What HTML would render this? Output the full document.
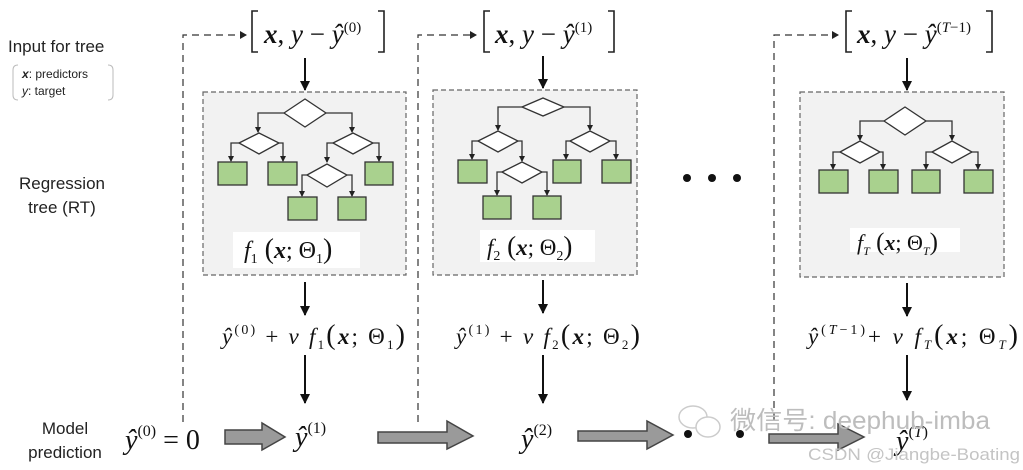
<!DOCTYPE html>
<html><head><meta charset="utf-8"><style>
html,body{margin:0;padding:0;background:#fff;}
svg{display:block;}
.lab{font-family:"Liberation Sans",sans-serif;fill:#222;}
.m{font-family:"Liberation Serif",serif;fill:#111;}
.t{stroke:#333;stroke-width:1.3;fill:none;}
.d{fill:#fff;stroke:#333;stroke-width:1.3;}
.l{fill:#a9d18e;stroke:#333;stroke-width:1.3;}
.box{fill:#f2f2f2;stroke:#666;stroke-width:1.2;stroke-dasharray:5,3;}
.dash{stroke:#333;stroke-width:1.2;stroke-dasharray:7,5;fill:none;}
.ar{stroke:#111;stroke-width:2;fill:none;}
.fat{fill:#9a9a9a;stroke:#444;stroke-width:1.5;}
.br{stroke:#222;stroke-width:1.6;fill:none;}
</style></head><body>
<svg width="1023" height="470" viewBox="0 0 1023 470" xmlns="http://www.w3.org/2000/svg">
<defs>
<marker id="ah" markerWidth="8" markerHeight="8" refX="6" refY="4" orient="auto" markerUnits="userSpaceOnUse"><path d="M0,0 L7,4 L0,8 Z" fill="#222"/></marker>
<marker id="as" markerWidth="7" markerHeight="7" refX="5" refY="3" orient="auto" markerUnits="userSpaceOnUse"><path d="M0,0 L6,3 L0,6 Z" fill="#222"/></marker>
<marker id="ab" markerWidth="12" markerHeight="12" refX="9" refY="5" orient="auto" markerUnits="userSpaceOnUse"><path d="M0,0 L10,5 L0,10 Z" fill="#111"/></marker>
</defs>

<text class="lab" x="8" y="52" font-size="17">Input for tree</text>
<path d="M18,65 Q13,65 13,70 L13,95 Q13,100 18,100" stroke="#bbb" fill="none"/>
<path d="M108,65 Q113,65 113,70 L113,95 Q113,100 108,100" stroke="#bbb" fill="none"/>
<text class="lab" x="22" y="78" font-size="12"><tspan font-weight="bold" font-style="italic">x</tspan>: predictors</text>
<text class="lab" x="22" y="95" font-size="12"><tspan font-style="italic">y</tspan>: target</text>
<text class="lab" x="62" y="189" font-size="17" text-anchor="middle">Regression</text>
<text class="lab" x="62" y="213" font-size="17" text-anchor="middle">tree (RT)</text>
<text class="lab" x="65" y="434" font-size="17" text-anchor="middle">Model</text>
<text class="lab" x="65" y="458" font-size="17" text-anchor="middle">prediction</text>

<path class="dash" d="M183,422 L183,35 L246,35" marker-end="url(#ah)"/>
<path class="dash" d="M418,422 L418,35 L476,35" marker-end="url(#ah)"/>
<path class="dash" d="M774,420 L774,35 L838,35" marker-end="url(#ah)"/>

<path class="br" d="M258,11 L252,11 L252,52 L258,52"/>
<path class="br" d="M378,11 L384,11 L384,52 L378,52"/>
<text class="m" x="264" y="43" font-size="27"><tspan font-weight="bold" font-style="italic">x</tspan>, <tspan font-style="italic">y</tspan> − <tspan font-style="italic">ŷ</tspan><tspan font-size="15" dy="-11">(0)</tspan></text>
<path class="br" d="M490,11 L484,11 L484,52 L490,52"/>
<path class="br" d="M608,11 L614,11 L614,52 L608,52"/>
<text class="m" x="495" y="43" font-size="27"><tspan font-weight="bold" font-style="italic">x</tspan>, <tspan font-style="italic">y</tspan> − <tspan font-style="italic">ŷ</tspan><tspan font-size="15" dy="-11">(1)</tspan></text>
<path class="br" d="M852,11 L846,11 L846,52 L852,52"/>
<path class="br" d="M986,11 L992,11 L992,52 L986,52"/>
<text class="m" x="857" y="43" font-size="27"><tspan font-weight="bold" font-style="italic">x</tspan>, <tspan font-style="italic">y</tspan> − <tspan font-style="italic">ŷ</tspan><tspan font-size="15" dy="-11">(<tspan font-style="italic">T</tspan>−1)</tspan></text>

<line class="ar" x1="305" y1="58" x2="305" y2="90" marker-end="url(#ab)"/>
<line class="ar" x1="543" y1="56" x2="543" y2="88" marker-end="url(#ab)"/>
<line class="ar" x1="907" y1="58" x2="907" y2="90" marker-end="url(#ab)"/>

<rect class="box" x="203" y="92" width="203" height="183"/>
<rect class="box" x="433" y="90" width="204" height="185"/>
<rect class="box" x="800" y="92" width="204" height="185"/>

<g>
<path class="t" d="M284,113 L258,113 L258,132" marker-end="url(#as)"/>
<path class="t" d="M326,113 L352,113 L352,132" marker-end="url(#as)"/>
<path class="t" d="M239,143 L231,143 L231,161" marker-end="url(#as)"/>
<path class="t" d="M279,143 L283,143 L283,161" marker-end="url(#as)"/>
<path class="t" d="M333,143 L327,143 L327,162" marker-end="url(#as)"/>
<path class="t" d="M373,143 L379,143 L379,161" marker-end="url(#as)"/>
<path class="t" d="M307,175 L302,175 L302,196" marker-end="url(#as)"/>
<path class="t" d="M347,175 L352,175 L352,196" marker-end="url(#as)"/>
<path class="d" d="M284,113 L305,99 L326,113 L305,127 Z"/>
<path class="d" d="M239,143 L259,133 L279,143 L259,154 Z"/>
<path class="d" d="M333,143 L353,133 L373,143 L353,154 Z"/>
<path class="d" d="M307,175 L327,164 L347,175 L327,187 Z"/>
<rect class="l" x="218" y="162" width="29" height="23"/>
<rect class="l" x="268" y="162" width="29" height="23"/>
<rect class="l" x="365" y="162" width="28" height="23"/>
<rect class="l" x="288" y="197" width="29" height="23"/>
<rect class="l" x="338" y="197" width="28" height="23"/>
<rect x="233" y="232" width="127" height="36" fill="#fff"/>
<text class="m" x="244" y="258" font-size="24"><tspan font-style="italic">f</tspan><tspan font-size="14" dy="5">1</tspan><tspan dy="-5" font-size="28"> (</tspan><tspan font-weight="bold" font-style="italic">x</tspan>; Θ<tspan font-size="14" dy="5">1</tspan><tspan dy="-5" font-size="28">)</tspan></text>
</g>

<g>
<path class="t" d="M522,107 L498,107 L498,130" marker-end="url(#as)"/>
<path class="t" d="M564,107 L590,107 L590,130" marker-end="url(#as)"/>
<path class="t" d="M478,141 L472,141 L472,159" marker-end="url(#as)"/>
<path class="t" d="M518,141 L522,141 L522,161" marker-end="url(#as)"/>
<path class="t" d="M570,141 L566,141 L566,159" marker-end="url(#as)"/>
<path class="t" d="M610,141 L616,141 L616,159" marker-end="url(#as)"/>
<path class="t" d="M502,172 L497,172 L497,195" marker-end="url(#as)"/>
<path class="t" d="M542,172 L547,172 L547,195" marker-end="url(#as)"/>
<path class="d" d="M522,107 L543,98 L564,107 L543,116 Z"/>
<path class="d" d="M478,141 L498,131 L518,141 L498,152 Z"/>
<path class="d" d="M570,141 L590,131 L610,141 L590,152 Z"/>
<path class="d" d="M502,172 L522,162 L542,172 L522,183 Z"/>
<rect class="l" x="458" y="160" width="29" height="23"/>
<rect class="l" x="553" y="160" width="28" height="23"/>
<rect class="l" x="602" y="160" width="29" height="23"/>
<rect class="l" x="483" y="196" width="28" height="23"/>
<rect class="l" x="533" y="196" width="28" height="23"/>
<rect x="480" y="230" width="115" height="32" fill="#fff"/>
<text class="m" x="487" y="255" font-size="23"><tspan font-style="italic">f</tspan><tspan font-size="14" dy="5">2</tspan><tspan dy="-5" font-size="27"> (</tspan><tspan font-weight="bold" font-style="italic">x</tspan>; Θ<tspan font-size="14" dy="5">2</tspan><tspan dy="-5" font-size="27">)</tspan></text>
</g>

<g>
<path class="t" d="M884,121 L860,121 L860,140" marker-end="url(#as)"/>
<path class="t" d="M926,121 L952,121 L952,140" marker-end="url(#as)"/>
<path class="t" d="M840,152 L833,152 L833,169" marker-end="url(#as)"/>
<path class="t" d="M880,152 L883,152 L883,169" marker-end="url(#as)"/>
<path class="t" d="M932,152 L926,152 L926,169" marker-end="url(#as)"/>
<path class="t" d="M972,152 L978,152 L978,169" marker-end="url(#as)"/>
<path class="d" d="M884,121 L905,107 L926,121 L905,135 Z"/>
<path class="d" d="M840,152 L860,141 L880,152 L860,163 Z"/>
<path class="d" d="M932,152 L952,141 L972,152 L952,163 Z"/>
<rect class="l" x="819" y="170" width="29" height="23"/>
<rect class="l" x="869" y="170" width="29" height="23"/>
<rect class="l" x="912" y="170" width="28" height="23"/>
<rect class="l" x="964" y="170" width="29" height="23"/>
<rect x="850" y="228" width="110" height="24" fill="#fff"/>
<text class="m" x="857" y="250" font-size="22"><tspan font-style="italic">f</tspan><tspan font-size="12" dy="5" font-style="italic">T</tspan><tspan dy="-5" font-size="25"> (</tspan><tspan font-weight="bold" font-style="italic">x</tspan>; Θ<tspan font-size="12" dy="5" font-style="italic">T</tspan><tspan dy="-5" font-size="25">)</tspan></text>
</g>

<circle cx="687" cy="178" r="4" fill="#111"/>
<circle cx="712" cy="178" r="4" fill="#111"/>
<circle cx="737" cy="178" r="4" fill="#111"/>

<line class="ar" x1="305" y1="282" x2="305" y2="315" marker-end="url(#ab)"/>
<line class="ar" x1="543" y1="280" x2="543" y2="313" marker-end="url(#ab)"/>
<line class="ar" x1="907" y1="283" x2="907" y2="316" marker-end="url(#ab)"/>
<line class="ar" x1="305" y1="355" x2="305" y2="403" marker-end="url(#ab)"/>
<line class="ar" x1="543" y1="355" x2="543" y2="403" marker-end="url(#ab)"/>
<line class="ar" x1="907" y1="355" x2="907" y2="400" marker-end="url(#ab)"/>

<text class="m" x="222" y="344" font-size="23" textLength="183" lengthAdjust="spacing"><tspan font-style="italic">ŷ</tspan><tspan font-size="14" dy="-10">(0)</tspan><tspan dy="10"> + </tspan><tspan font-style="italic">ν f</tspan><tspan font-size="13" dy="5">1</tspan><tspan dy="-5" font-size="28">(</tspan><tspan font-weight="bold" font-style="italic">x</tspan>; Θ<tspan font-size="13" dy="5">1</tspan><tspan dy="-5" font-size="28">)</tspan></text>
<text class="m" x="456" y="344" font-size="23" textLength="184" lengthAdjust="spacing"><tspan font-style="italic">ŷ</tspan><tspan font-size="14" dy="-10">(1)</tspan><tspan dy="10"> + </tspan><tspan font-style="italic">ν f</tspan><tspan font-size="13" dy="5">2</tspan><tspan dy="-5" font-size="28">(</tspan><tspan font-weight="bold" font-style="italic">x</tspan>; Θ<tspan font-size="13" dy="5">2</tspan><tspan dy="-5" font-size="28">)</tspan></text>
<text class="m" x="808" y="344" font-size="23" textLength="210" lengthAdjust="spacing"><tspan font-style="italic">ŷ</tspan><tspan font-size="14" dy="-10">(<tspan font-style="italic">T</tspan>−1)</tspan><tspan dy="10">+ </tspan><tspan font-style="italic">ν f</tspan><tspan font-size="13" dy="5" font-style="italic">T</tspan><tspan dy="-5" font-size="28">(</tspan><tspan font-weight="bold" font-style="italic">x</tspan>; Θ<tspan font-size="13" dy="5" font-style="italic">T</tspan><tspan dy="-5" font-size="28">)</tspan></text>

<text class="m" x="125" y="449" font-size="28"><tspan font-style="italic">ŷ</tspan><tspan font-size="16" dy="-13">(0)</tspan><tspan dy="13">  = 0</tspan></text>
<text class="m" x="295" y="446" font-size="28"><tspan font-style="italic">ŷ</tspan><tspan font-size="16" dy="-13">(1)</tspan></text>
<text class="m" x="521" y="448" font-size="28"><tspan font-style="italic">ŷ</tspan><tspan font-size="16" dy="-13">(2)</tspan></text>
<text class="m" x="896" y="450" font-size="28"><tspan font-style="italic">ŷ</tspan><tspan font-size="16" dy="-13">(<tspan font-style="italic">T</tspan>)</tspan></text>

<polygon class="fat" points="225,430 262,430 262,423 285,437 262,450 262,444 225,444"/>
<polygon class="fat" points="378,432 447,432 447,421 473,436 447,449 447,443 378,443"/>
<polygon class="fat" points="578,431 647,431 647,421 673,435 647,449 647,441 578,441"/>
<polygon class="fat" points="769,434 838,434 838,424 864,437 838,450 838,443 769,443"/>
<circle cx="688" cy="434" r="4" fill="#111"/>
<circle cx="740" cy="434" r="4" fill="#111"/>

<ellipse cx="693" cy="417" rx="14" ry="11" fill="none" stroke="#ccc" stroke-width="1.5"/>
<ellipse cx="708" cy="427" rx="12" ry="10" fill="#fff" stroke="#ccc" stroke-width="1.5"/>
<text x="730" y="429" font-size="25" fill="#bdbdbd" textLength="260" lengthAdjust="spacingAndGlyphs" style="font-family:'Liberation Sans','Noto Sans CJK SC',sans-serif">微信号: deephub-imba</text>
<text x="808" y="460" font-size="17" fill="#c4c4c4" textLength="212" lengthAdjust="spacingAndGlyphs" style="font-family:'Liberation Sans',sans-serif">CSDN @Jiangbe-Boating</text>
</svg>
</body></html>
